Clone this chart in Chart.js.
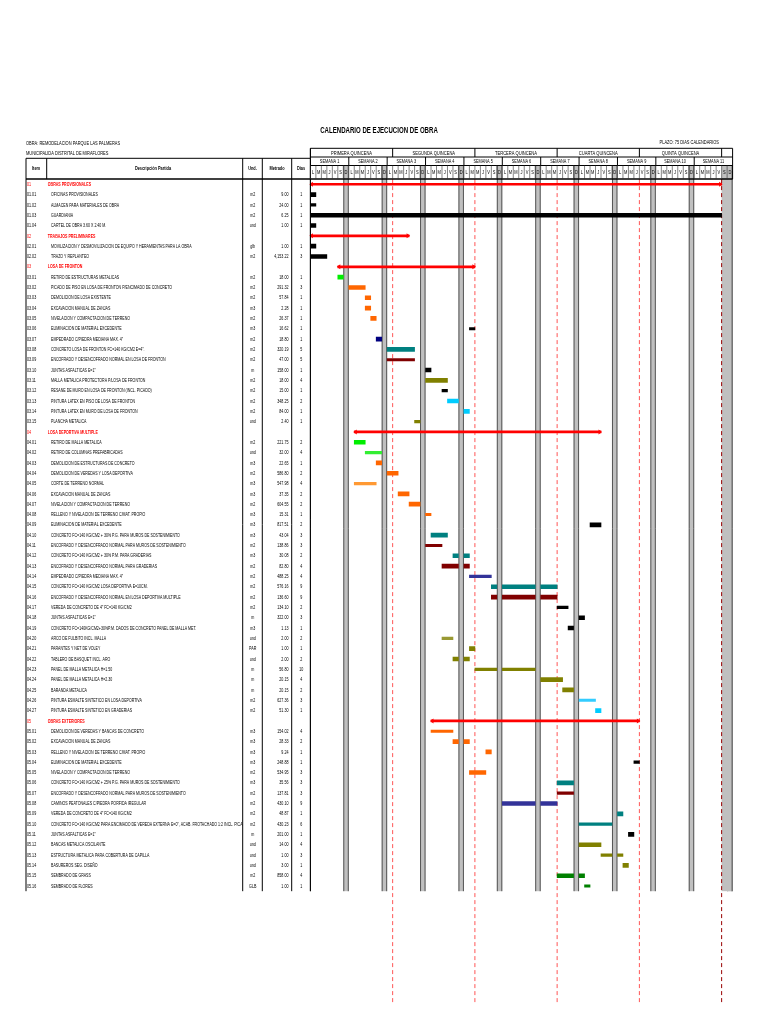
<!DOCTYPE html>
<html>
<head>
<meta charset="utf-8">
<script src="https://cdn.jsdelivr.net/npm/chart.js@4.4.0/dist/chart.umd.min.js"></script>
<style>
  html, body { margin: 0; padding: 0; background: #fff; }
  canvas { display: block; }
</style>
</head>
<body>
<canvas id="chartObra" width="768" height="1024" style="width:768px;height:1024px"></canvas>
<script>
// datos del calendario
const items = ["01","01.01","01.02","01.03","01.04","02","02.01","02.02","03","03.01","03.02","03.03","03.04","03.05","03.06","03.07","03.08","03.09","03.10","03.11","03.12","03.13","03.14","03.15","04","04.01","04.02","04.03","04.04","04.05","04.06","04.07","04.08","04.09","04.10","04.11","04.12","04.13","04.14","04.15","04.16","04.17","04.18","04.19","04.20","04.21","04.22","04.23","04.24","04.25","04.26","04.27","05","05.01","05.02","05.03","05.04","05.05","05.06","05.07","05.08","05.09","05.10","05.11","05.12","05.13","05.14","05.15","05.16"];

const descripciones = [
  "OBRAS PROVISIONALES","OFICINAS PROVISIONALES","ALMACEN PARA MATERIALES DE OBRA","GUARDIANIA","CARTEL DE OBRA 3.60 X 2.40 M.",
  "TRABAJOS PRELIMINARES","MOVILIZACION Y DESMOVILIZACION DE EQUIPO Y HERAMIENTAS PARA LA OBRA","TRAZO Y REPLANTEO",
  "LOSA DE FRONTON","RETIRO DE ESTRUCTURAS METALICAS","PICADO DE PISO EN LOSA DE FRONTON P/ENCIMADO DE CONCRETO","DEMOLICION DE LOSA EXISTENTE",
  "EXCAVACION MANUAL DE ZANJAS","NIVELACION Y COMPACTACION DE TERRENO","ELIMINACION DE MATERIAL EXCEDENTE","EMPEDRADO C/PIEDRA MEDIANA MAX. 4\"",
  "CONCRETO LOSA DE FRONTON FC=140 KG/CM2 E=4\".","ENCOFRADO Y DESENCOFRADO NORMAL EN LOSA DE FRONTON","JUNTAS ASFALTICAS E=1\"",
  "MALLA METALICA PROTECTORA P/LOSA DE FRONTON","RESANE DE MURO EN LOSA DE FRONTON (INCL. PICADO)","PINTURA LATEX EN PISO DE LOSA DE FRONTON",
  "PINTURA LATEX EN MURO DE LOSA DE FRONTON","PLANCHA METALICA",
  "LOSA DEPORTIVA MULTIPLE","RETIRO DE MALLA METALICA","RETIRO DE COLUMNAS PREFABRICADAS","DEMOLICION DE ESTRUCTURAS DE CONCRETO",
  "DEMOLICION DE VEREDAS Y LOSA DEPORTIVA","CORTE DE TERRENO NORMAL","EXCAVACION MANUAL DE ZANJAS","NIVELACION Y COMPACTACION DE TERRENO",
  "RELLENO Y NIVELACION DE TERRENO C/MAT. PROPIO","ELIMINACION DE MATERIAL EXCEDENTE","CONCRETO FC=140 KG/CM2 + 30% P.G. PARA MUROS DE SOSTENIMIENTO",
  "ENCOFRADO Y DESENCOFRADO NORMAL PARA MUROS DE SOSTENIMIENTO","CONCRETO FC=140 KG/CM2 + 30% P.M. PARA GRADERIAS",
  "ENCOFRADO Y DESENCOFRADO NORMAL PARA GRADERIAS","EMPEDRADO C/PIEDRA MEDIANA MAX. 4\"","CONCRETO FC=140 KG/CM2 LOSA DEPORTIVA E=10CM.",
  "ENCOFRADO Y DESENCOFRADO NORMAL EN LOSA DEPORTIVA MULTIPLE","VEREDA DE CONCRETO DE 4\" FC=140 KG/CM2","JUNTAS ASFALTICAS E=1\"",
  "CONCRETO FC=140KG/CM2+30%P.M. DADOS DE CONCRETO PANEL DE MALLA MET.","ARCO DE FULBITO INCL. MALLA","PARANTES Y NET DE VOLEY",
  "TABLERO DE BASQUET INCL. ARO","PANEL DE MALLA METALICA H=1.50","PANEL DE MALLA METALICA H=2.30","BARANDA METALICA",
  "PINTURA ESMALTE SINTETICO EN LOSA DEPORTIVA","PINTURA ESMALTE SINTETICO EN GRADERIAS",
  "OBRAS EXTERIORES","DEMOLICION DE VEREDAS Y BANCAS DE CONCRETO","EXCAVACION MANUAL DE ZANJAS","RELLENO Y NIVELACION DE TERRENO C/MAT. PROPIO",
  "ELIMINACION DE MATERIAL EXCEDENTE","NIVELACION Y COMPACTACION DE TERRENO","CONCRETO FC=140 KG/CM2 + 25% P.G. PARA MUROS DE SOSTENIMIENTO",
  "ENCOFRADO Y DESENCOFRADO NORMAL PARA MUROS DE SOSTENIMIENTO","CAMINOS PEATONALES C/PIEDRA PORFIDA IREGULAR","VEREDA DE CONCRETO DE 4\" FC=140 KG/CM2",
  "CONCRETO FC=140 KG/CM2 PARA ENCIMADO DE VEREDA EXTERNA E=0\", ACAB. FROTACHADO 1:2 INCL. PICA","JUNTAS ASFALTICAS E=1\"",
  "BANCAS METALICA OSCILANTE","ESTRUCTURA METALICA PARA COBERTURA DE CAPILLA","BASUREROS SEG. DISEÑO","SEMBRADO DE GRASS","SEMBRADO DE FLORES"
];

const unidades = ["","m2","m2","m2","und","","glb","m2","","m2","m2","m2","m3","m2","m3","m2","m2","m2","m","m2","m2","m2","m2","und","","m2","und","m3","m2","m3","m3","m2","m3","m3","m3","m2","m3","m2","m2","m2","m2","m2","m","m3","und","PAR","und","m","m","m","m2","m2","","m3","m3","m3","m3","m2","m3","m2","m2","m2","m2","m","und","und","und","m2","GLB"];

const metrados = ["","9.00","24.00","6.25","1.00","","1.00","4,153.22","","18.00","291.32","57.84","2.28","26.37","16.62","18.80","320.19","47.00","158.00","18.00","15.00","348.25","84.00","2.40","","221.75","32.00","22.65","586.80","547.98","37.35","604.55","15.31","817.51","43.04","138.86","30.08","82.80","488.25","576.16","136.60","134.10","322.00","1.13","2.00","1.00","2.00","56.80","20.15","20.15","627.36","51.30","","154.02","28.33","9.24","248.88","534.95","35.56","137.81","430.10","48.87","430.23","201.00","14.00","1.00","3.00","858.00","1.00"];

const dias = ["","1","1","1","1","","1","3","","1","3","1","1","1","1","1","5","5","1","4","1","2","1","1","","2","4","1","2","4","2","2","1","2","3","3","2","4","4","9","9","2","3","1","2","1","2","10","4","2","3","1","","4","2","1","1","3","3","3","9","1","6","1","4","3","1","4","1"];

// tramos de cada partida en dias desde el inicio [inicio, fin]
const tramos = [
  [[0,75]],[[0,1]],[[0,1]],[[0,75]],[[0,1]],
  [[0,18]],[[0,1]],[[0,3]],
  [[5,30]],[[5,6]],[[7,10]],[[10,11]],[[10,11]],[[11,12]],[[29,30]],[[12,13]],[[14,19]],[[14,19]],[[21,22]],[[21,25]],[[24,25]],[[25,27]],[[28,29]],[[19,20]],
  [[8,53]],[[8,10]],[[10,13]],[[12,13]],[[14,16]],[[8,12]],[[16,18]],[[18,20]],[[21,22]],[[51,53]],[[22,25]],[[21,24]],[[26,27],[28,29]],[[24,27],[28,29]],[[29,33]],
  [[33,34],[35,41],[42,45]],[[33,34],[35,41],[42,45]],[[45,47]],[[49,50]],[[47,48]],[[24,26]],[[29,30]],[[26,27],[28,29]],[[30,34],[35,41]],[[42,46]],[[46,48]],[[49,52]],[[52,53]],
  [[22,60]],[[22,26]],[[26,27],[28,29]],[[32,33]],[[59,60]],[[29,32]],[[45,48]],[[45,48]],[[35,41],[42,45]],[[56,57]],[[49,55]],[[58,59]],[[49,53]],[[53,55],[56,57]],[[57,58]],[[45,48],[49,50]],[[50,51]]
];

const quincenas = ["PRIMERA QUINCENA","SEGUNDA QUINCENA","TERCERA QUINCENA","CUARTA QUINCENA","QUINTA QUINCENA",""];
const semanas = ["SEMANA 1","SEMANA 2","SEMANA 3","SEMANA 4","SEMANA 5","SEMANA 6","SEMANA 7","SEMANA 8","SEMANA 9","SEMANA 10","SEMANA 11"];
const letrasDia = ["L","M","M","J","V","S","D"];
const totalDias = 77;
const plazo = 75;

// estilos por fila
const colores = ["#ff0000","#000000","#000000","#000000","#000000","#ff0000","#000000","#000000",
  "#ff0000","#00ee00","#ff6600","#ff6600","#ff6600","#ff6600","#000000","#000080","#008080","#800000","#000000","#808000","#000000","#00ccff","#00ccff","#808000",
  "#ff0000","#00ee00","#33ee33","#ff6600","#ff6600","#ff9933","#ff6600","#ff6600","#ff6600","#000000","#008080","#800000","#008080","#800000","#333399",
  "#008080","#800000","#000000","#000000","#000000","#999933","#808000","#808000","#808000","#808000","#808000","#33ccff","#00ccff",
  "#ff0000","#ff6600","#ff6600","#ff6600","#000000","#ff6600","#008080","#800000","#333399","#008080","#008080","#000000","#808000","#808000","#808000","#008000","#008000"];
const delgados = ["01.02","03.06","03.09","03.12","03.15","04.02","04.05","04.08","04.11","04.14","04.17","04.20","04.23","04.26","05.01","05.04","05.07","05.10","05.13","05.16"];

const esCapitulo = (code) => code.indexOf(".") < 0;

const datosFlecha = [], datosGruesos = [], datosDelgados = [];
items.forEach((code, i) => {
  tramos[i].forEach((t) => {
    const punto = { x: t, y: code };
    if (esCapitulo(code)) datosFlecha.push(punto);
    else if (delgados.includes(code)) datosDelgados.push(punto);
    else datosGruesos.push(punto);
  });
});

const colorDe = (ctx) => colores[items.indexOf(ctx.raw.y)];

const FONT = '"Liberation Sans", Arial, sans-serif';
function texto(ctx, s, x, y, size, opts) {
  opts = opts || {};
  ctx.save();
  ctx.translate(x, y);
  ctx.scale(opts.sx || 0.7, 1);
  ctx.font = (opts.bold ? "bold " : "") + size + "px " + FONT;
  ctx.fillStyle = opts.color || "#000";
  ctx.textAlign = opts.align || "left";
  ctx.textBaseline = "middle";
  ctx.fillText(s, 0, 0);
  ctx.restore();
}
function linea(ctx, x1, y1, x2, y2, w, color) {
  ctx.beginPath();
  ctx.lineWidth = w;
  ctx.strokeStyle = color || "#000";
  ctx.moveTo(x1, y1);
  ctx.lineTo(x2, y2);
  ctx.stroke();
}

const TABLA_X = [26, 46.7, 242.7, 262.3, 291.7];
const Y_QUINC = 148.3, Y_SEM = 157, Y_DIA = 165.5, Y_CAB = 158.3;

const fondoGantt = {
  id: "fondoGantt",
  beforeDatasetsDraw(chart) {
    const ctx = chart.ctx, xs = chart.scales.x, area = chart.chartArea;
    ctx.save();
    // domingos en gris
    for (let d = 6; d < totalDias; d += 7) {
      const x1 = xs.getPixelForValue(d), x2 = xs.getPixelForValue(d + 1);
      ctx.fillStyle = "#c0c0c0";
      ctx.fillRect(x1, Y_DIA, x2 - x1, area.bottom - Y_DIA);
      linea(ctx, x1 + 0.5, Y_DIA, x1 + 0.5, area.bottom, 1, "#555");
      linea(ctx, x2 - 0.5, Y_DIA, x2 - 0.5, area.bottom, 1, "#555");
    }
    // fuera de plazo
    const xp = xs.getPixelForValue(plazo), xe = xs.getPixelForValue(totalDias);
    ctx.fillStyle = "#c0c0c0";
    ctx.fillRect(xp, Y_DIA, xe - xp, area.bottom - Y_DIA);
    linea(ctx, xe - 0.5, Y_DIA, xe - 0.5, area.bottom, 1, "#555");
    // lineas de quincena
    ctx.setLineDash([4, 3]);
    for (let q = 15; q <= plazo; q += 15) {
      const x = xs.getPixelForValue(q);
      linea(ctx, x, area.top, x, 1005, 1, q === plazo ? "#990000" : "#ff5555");
    }
    ctx.setLineDash([]);
    linea(ctx, area.left, Y_DIA, area.left, area.bottom, 1, "#333");
    ctx.restore();
  },
  afterDatasetsDraw(chart) {
    const ctx = chart.ctx;
    const meta = chart.getDatasetMeta(0);
    ctx.save();
    ctx.fillStyle = "#ff0000";
    meta.data.forEach((el) => {
      const a = Math.min(el.x, el.base), b = Math.max(el.x, el.base), y = el.y;
      ctx.beginPath();
      ctx.moveTo(a - 1, y); ctx.lineTo(a + 2.5, y - 2.5); ctx.lineTo(a + 2.5, y + 2.5); ctx.closePath(); ctx.fill();
      ctx.beginPath();
      ctx.moveTo(b + 1, y); ctx.lineTo(b - 2.5, y - 2.5); ctx.lineTo(b - 2.5, y + 2.5); ctx.closePath(); ctx.fill();
    });
    ctx.restore();
  },
  afterDraw(chart) {
    const ctx = chart.ctx, xs = chart.scales.x, ys = chart.scales.y, area = chart.chartArea;
    ctx.save();
    // titulos
    texto(ctx, "CALENDARIO DE EJECUCION DE OBRA", 379, 130, 9.5, { bold: true, align: "center", sx: 0.64 });
    texto(ctx, "OBRA: REMODELACION PARQUE LAS PALMERAS", 26, 143, 5.5, { sx: 0.72 });
    texto(ctx, "MUNICIPALIDA DISTRITAL DE MIRAFLORES", 26, 153, 5.5, { sx: 0.72 });
    texto(ctx, "PLAZO: 75 DIAS CALENDARIOS", 719, 142.5, 5.5, { align: "right", sx: 0.72 });

    // cabecera de la tabla
    linea(ctx, TABLA_X[0], Y_CAB, area.left, Y_CAB, 1);
    linea(ctx, TABLA_X[0], area.top, xs.getPixelForValue(totalDias), area.top, 1.5);
    TABLA_X.forEach((x) => linea(ctx, x, Y_CAB, x, x === TABLA_X[1] ? area.top : area.bottom, 1));
    linea(ctx, area.left, Y_QUINC, area.left, area.bottom, 1);
    const yCab = (Y_CAB + area.top) / 2;
    texto(ctx, "Item", 36, yCab, 5.5, { bold: true, align: "center" });
    texto(ctx, "Descripción Partida", 153, yCab, 5.5, { bold: true, align: "center" });
    texto(ctx, "Und.", 252.5, yCab, 5.5, { bold: true, align: "center" });
    texto(ctx, "Metrado", 277, yCab, 5.5, { bold: true, align: "center" });
    texto(ctx, "Días", 301, yCab, 5.5, { bold: true, align: "center" });

    // cabecera del calendario
    const xEnd = xs.getPixelForValue(totalDias);
    linea(ctx, area.left, Y_QUINC, xEnd, Y_QUINC, 1);
    linea(ctx, area.left, Y_SEM, xEnd, Y_SEM, 1);
    linea(ctx, area.left, Y_DIA, xEnd, Y_DIA, 1);
    linea(ctx, xEnd, Y_QUINC, xEnd, area.top, 1);
    quincenas.forEach((q, i) => {
      const a = xs.getPixelForValue(i * 15), b = xs.getPixelForValue(Math.min((i + 1) * 15, totalDias));
      linea(ctx, a, Y_QUINC, a, Y_SEM, 1);
      if (q) texto(ctx, q, (a + b) / 2, (Y_QUINC + Y_SEM) / 2 + 0.3, 5.8, { align: "center" });
    });
    semanas.forEach((s, i) => {
      const a = xs.getPixelForValue(i * 7), b = xs.getPixelForValue((i + 1) * 7);
      linea(ctx, a, Y_SEM, a, Y_DIA, 1);
      texto(ctx, s, (a + b) / 2, (Y_SEM + Y_DIA) / 2 + 0.3, 5.5, { align: "center" });
    });
    const yLetra = (Y_DIA + area.top) / 2;
    for (let d = 0; d < totalDias; d++) {
      const a = xs.getPixelForValue(d), b = xs.getPixelForValue(d + 1);
      linea(ctx, a, Y_DIA, a, area.top, 0.6, "#333");
      texto(ctx, letrasDia[d % 7], (a + b) / 2, yLetra, 5, { align: "center", sx: 0.8 });
    }

    // filas de la tabla
    items.forEach((code, i) => {
      const y = ys.getPixelForValue(i) + 0.3;
      const cap = esCapitulo(code);
      const col = cap ? "#ff0000" : "#000";
      texto(ctx, code, 27, y, 4.9, { color: col, sx: 0.75 });
      texto(ctx, descripciones[i], cap ? 47.8 : 51, y, 4.9, { color: col, bold: cap, sx: 0.73 });
      if (unidades[i]) texto(ctx, unidades[i], 252.7, y, 4.9, { align: "center", sx: 0.75 });
      if (metrados[i]) texto(ctx, metrados[i], 288.5, y, 4.9, { align: "right", sx: 0.75 });
      if (dias[i]) texto(ctx, dias[i], 301.3, y, 4.9, { align: "center", sx: 0.75 });
    });
    ctx.restore();
  }
};

new Chart(document.getElementById("chartObra"), {
  type: "bar",
  data: {
    labels: items,
    datasets: [
      { label: "Capitulos", data: datosFlecha, backgroundColor: "#ff0000", barThickness: 2, grouped: false },
      { label: "Partidas", data: datosGruesos, backgroundColor: colorDe, barThickness: 4, grouped: false },
      { label: "Partidas menores", data: datosDelgados, backgroundColor: colorDe, barThickness: 2.5, grouped: false }
    ]
  },
  options: {
    indexAxis: "y",
    responsive: false,
    animation: false,
    devicePixelRatio: 1,
    layout: { padding: { left: 310.4, right: 35.4, top: 179.1, bottom: 132.8 } },
    plugins: { legend: { display: false }, tooltip: { enabled: false } },
    scales: {
      x: { type: "linear", min: 0, max: totalDias, display: false },
      y: { type: "category", labels: items, display: false }
    }
  },
  plugins: [fondoGantt]
});
</script>
</body>
</html>
